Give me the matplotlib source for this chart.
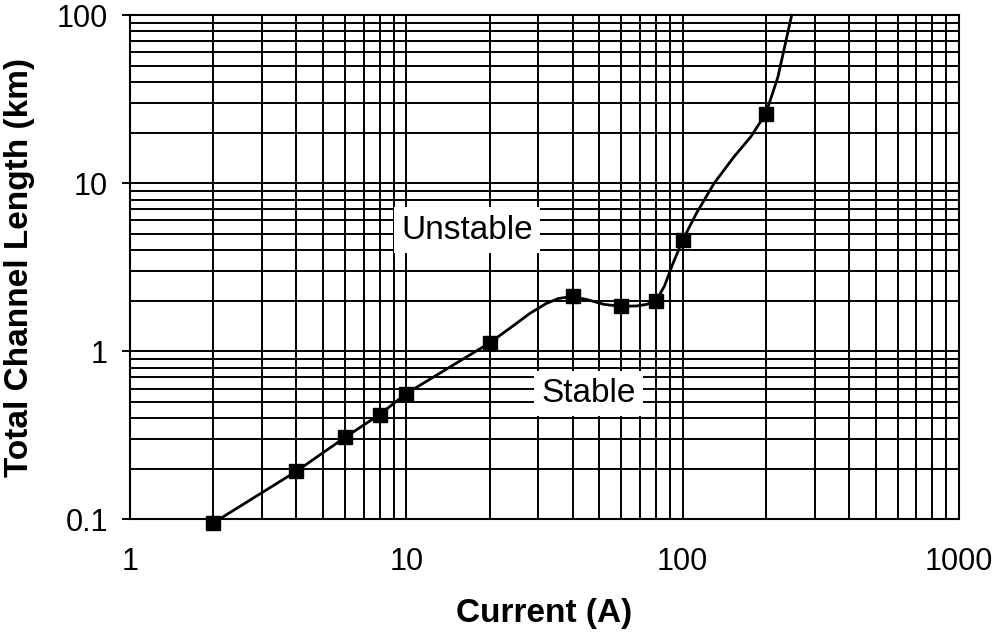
import numpy as np
import matplotlib
matplotlib.use('Agg')
import matplotlib.pyplot as plt
from matplotlib.ticker import LogLocator, NullFormatter, FixedLocator, FixedFormatter

plt.rcParams['font.family'] = ['Liberation Sans', 'DejaVu Sans']

# measured points (squares)
current = [2, 4, 6, 8, 10, 20, 40, 60, 80, 100, 200]
length_km = [0.095, 0.193, 0.307, 0.42, 0.56, 1.12, 2.12, 1.85, 1.99, 4.58, 26.0]

# extra points
curve_current = [24.4, 28.0, 32.0, 35.5, 45.0, 52.0, 68.0, 74.0, 86.0, 92.0, 112.0, 130.0, 153, 176, 221, 248]
curve_length = [1.42, 1.68, 1.92, 2.06, 2.03, 1.90, 1.86, 1.90, 2.45, 3.3, 6.6, 10.0, 14.3, 18.8, 42.7, 100]

x_ticks = [1, 10, 100, 1000]
x_tick_labels = ['1', '10', '100', '1000']
y_ticks = [0.1, 1, 10, 100]
y_tick_labels = ['0.1', '1', '10', '100']

# merge points for the line
cx = np.array(current + curve_current, dtype=float)
cy = np.array(length_km + curve_length, dtype=float)
order = np.argsort(cx)
cx, cy = cx[order], cy[order]

fig = plt.figure(figsize=(10, 6.34), dpi=100)
ax = fig.add_axes([0.13, 0.181, 0.829, 0.795])

ax.set_xscale('log')
ax.set_yscale('log')
ax.set_xlim(1, 1000)
ax.set_ylim(0.1, 100)

ax.xaxis.set_minor_locator(LogLocator(base=10, subs=np.arange(2, 10)))
ax.yaxis.set_minor_locator(LogLocator(base=10, subs=np.arange(2, 10)))
ax.xaxis.set_minor_formatter(NullFormatter())
ax.yaxis.set_minor_formatter(NullFormatter())
ax.xaxis.set_major_locator(FixedLocator(x_ticks))
ax.xaxis.set_major_formatter(FixedFormatter(x_tick_labels))
ax.yaxis.set_major_locator(FixedLocator(y_ticks))
ax.yaxis.set_major_formatter(FixedFormatter(y_tick_labels))

ax.grid(True, which='both', color='black', linewidth=1.4)
ax.set_axisbelow(True)
for s in ax.spines.values():
    s.set_linewidth(1.5)

ax.tick_params(axis='y', which='major', length=6, width=1.4, labelsize=22, pad=10)
ax.tick_params(axis='x', which='major', length=0, labelsize=22, pad=20)
ax.tick_params(which='minor', length=0)

ax.plot(cx, cy, color='black', linewidth=2, clip_on=False, zorder=3)
ax.plot(current, length_km, 's', color='black', markersize=10, clip_on=False, zorder=4)

box = dict(boxstyle='square,pad=0.22', facecolor='white', edgecolor='none')
ax.text(16.6, 5.25, 'Unstable', fontsize=24, ha='center', va='center', bbox=box, zorder=5)
ax.text(45.7, 0.56, 'Stable', fontsize=24, ha='center', va='center', bbox=box, zorder=5)

ax.set_xlabel('Current (A)', fontsize=24, fontweight='bold')
ax.set_ylabel('Total Channel Length (km)', fontsize=24, fontweight='bold')
ax.xaxis.set_label_coords(0.5, -0.187)
ax.xaxis.label.set_va('center')
ax.yaxis.set_label_coords(-0.133, 0.5)
ax.yaxis.label.set_va('center')

fig.savefig('out.png', dpi=100)
